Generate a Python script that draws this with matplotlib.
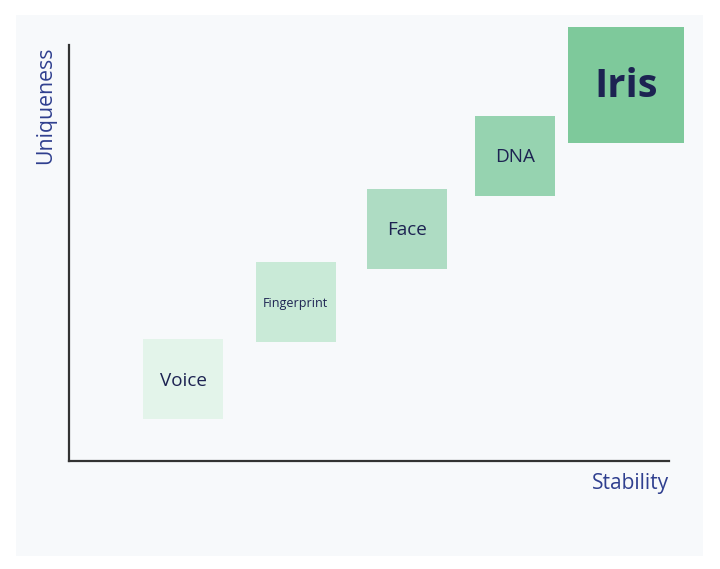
import matplotlib
matplotlib.use("Agg")
import matplotlib.pyplot as plt
from matplotlib.patches import Rectangle
from matplotlib.transforms import offset_copy

plt.rcParams['font.family'] = ['Open Sans', 'DejaVu Sans']

# biometric traits, stability (x) vs uniqueness (y), 0-10 scale
traits = ['Voice', 'Fingerprint', 'Face', 'DNA', 'Iris']
stability = [1.9, 3.78, 5.63, 7.43, 9.28]
uniqueness = [1.96, 3.83, 5.58, 7.34, 9.04]

colors = ['#e3f4ea', '#c9ead7', '#aedcc3', '#96d3b0', '#7ec99b']
font_sizes = [13.6, 9, 13.6, 13.6, 28.8]
weights = ['normal', 'normal', 'normal', 'normal', 'bold']
box_px = [80, 80, 80, 80, 116]

W, H = 720, 569
fig = plt.figure(figsize=(W / 100, H / 100), dpi=100)
fig.patch.set_facecolor('white')
fig.patches.append(Rectangle((16 / W, 1 - 556 / H), (703 - 16) / W, (556 - 15) / H,
                             transform=fig.transFigure, facecolor='#f7f9fb',
                             edgecolor='none', zorder=-5))

ax_l, ax_r, ax_t, ax_b = 69, 669, 45, 461
ax = fig.add_axes([ax_l / W, 1 - ax_b / H, (ax_r - ax_l) / W, (ax_b - ax_t) / H])
ax.set_zorder(1)
ax.set_facecolor('none')
ax.set_xlim(0, 10)
ax.set_ylim(0, 10)
for s in ['top', 'right']:
    ax.spines[s].set_visible(False)
for s in ['left', 'bottom']:
    ax.spines[s].set_color('#333333')
    ax.spines[s].set_linewidth(1.6)
ax.set_xticks([])
ax.set_yticks([])

px_x = 10 / (ax_r - ax_l)
px_y = 10 / (ax_b - ax_t)
text_col = '#1d2352'
txt_tr = offset_copy(ax.transData, fig=fig, x=0, y=-1.5, units='dots')
for name, sx, uy, c, fs, wt, bp in zip(traits, stability, uniqueness, colors,
                                       font_sizes, weights, box_px):
    w = bp * px_x
    h = bp * px_y
    ax.add_patch(Rectangle((sx - w / 2, uy - h / 2), w, h, facecolor=c,
                           edgecolor='none', clip_on=False))
    ax.text(sx, uy, name, ha='center', va='center', fontsize=fs,
            fontweight=wt, color=text_col, transform=txt_tr)

label_col = '#2f3f8f'
fig.text(46 / W, 1 - 46 / H, 'Uniqueness', rotation=90, ha='center', va='top',
         fontsize=15.3, color=label_col)
fig.text(669 / W, 1 - 483 / H, 'Stability', ha='right', va='center',
         fontsize=15, color=label_col)

fig.savefig('out.png', dpi=100, facecolor='white')
